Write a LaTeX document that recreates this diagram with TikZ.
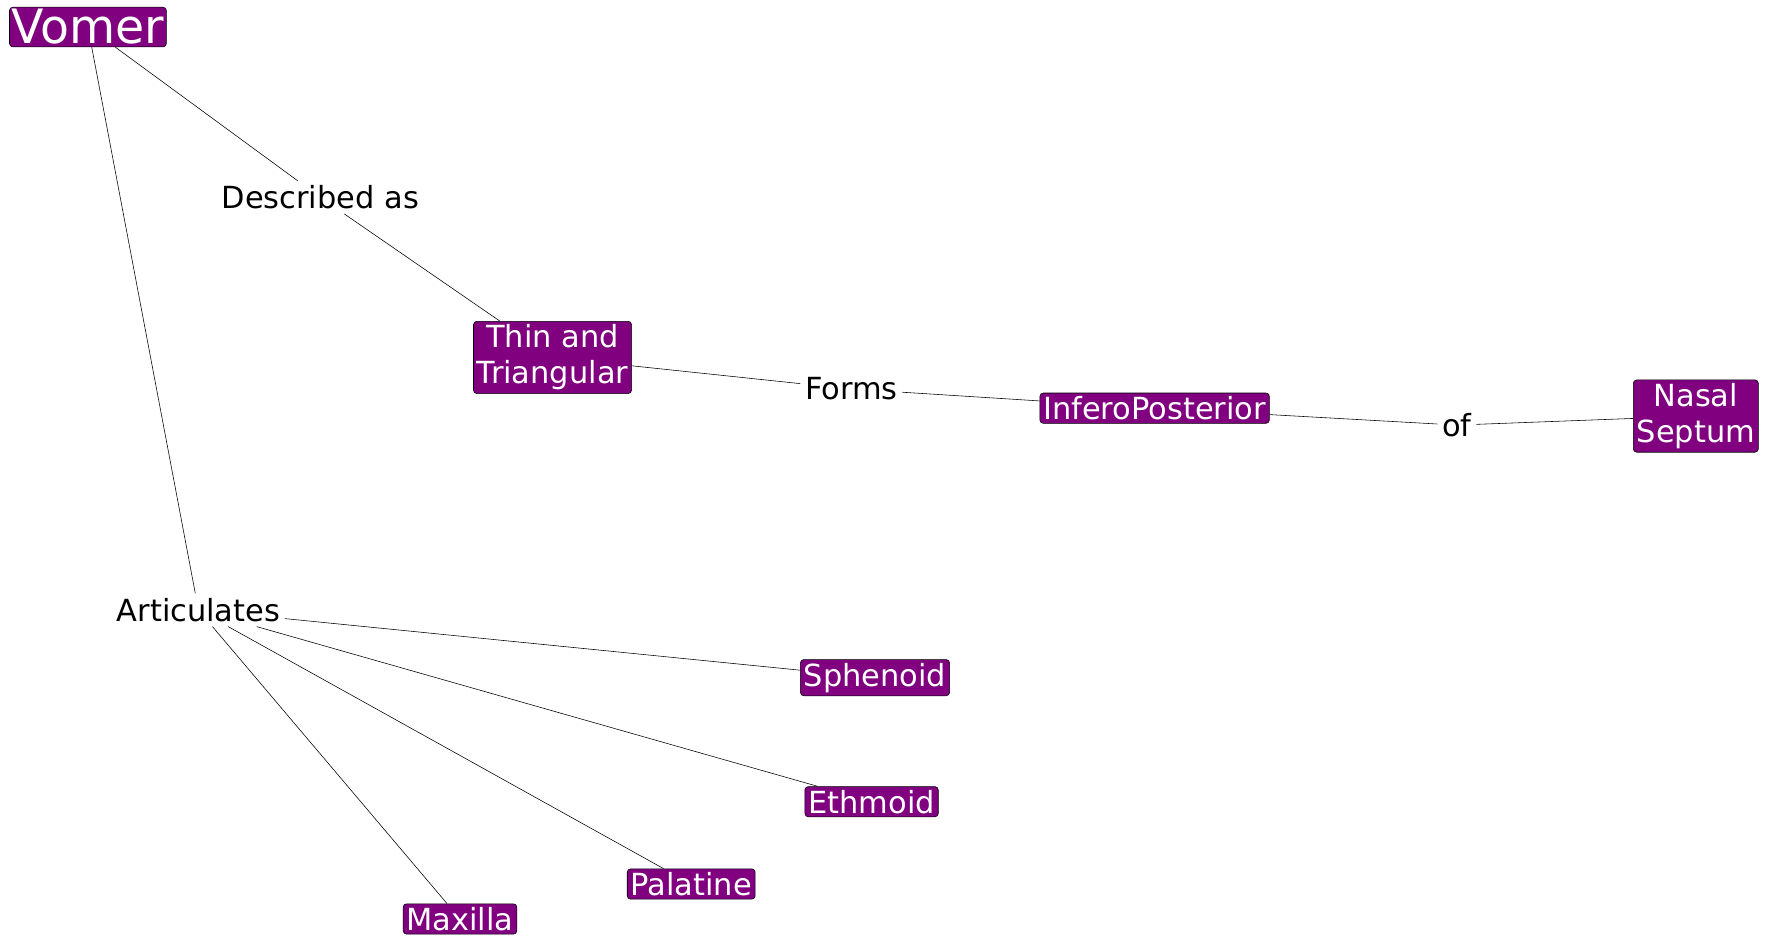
\documentclass[tikz,border=0pt]{standalone}
\usepackage{fontspec}
\setmainfont{DejaVu Sans}
\usepackage{tikz}
\definecolor{bone}{HTML}{800080}
\begin{document}
\begin{tikzpicture}[x=1pt,y=-1pt]
\tikzset{concept/.style={draw=black,fill=bone,text=white,rounded corners=3pt,inner sep=3pt,align=center,font=\fontsize{27}{32}\selectfont},
link/.style={inner sep=4pt,font=\fontsize{27}{32}\selectfont},
every path/.style={line width=0.5pt}}
\useasboundingbox (0,0) rectangle (1568,835);
\node [concept,font=\fontsize{42}{46}\selectfont,inner sep=2pt] (vomer) at (78,24) {Vomer};
\node [concept] (thin) at (490,317) {Thin and\\Triangular};
\node [concept] (infero) at (1024,362) {InferoPosterior};
\node [concept] (septum) at (1504,369) {Nasal\\Septum};
\node [concept] (sphenoid) at (776,601) {Sphenoid};
\node [concept] (ethmoid) at (773,711) {Ethmoid};
\node [concept] (palatine) at (613,784) {Palatine};
\node [concept] (maxilla) at (408,815) {Maxilla};
\node [link] (described) at (284,175) {Described as};
\node [link] (forms) at (755,345) {Forms};
\node [link] (of) at (1292,377) {of};
\node [link] (artic) at (176,541) {Articulates};
\draw (vomer) -- (described) -- (thin);
\draw (thin) -- (forms) -- (infero);
\draw (infero) -- (of) -- (septum);
\draw (vomer) -- (artic);
\draw (artic) -- (sphenoid);
\draw (artic) -- (ethmoid);
\draw (artic) -- (palatine);
\draw (artic) -- (maxilla);
\end{tikzpicture}
\end{document}
